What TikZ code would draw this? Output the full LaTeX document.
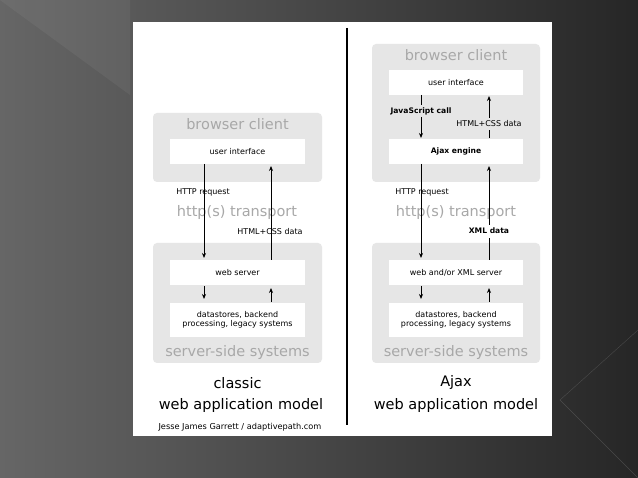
\documentclass[tikz,border=0pt]{standalone}
\usepackage{fontspec}
\setmainfont{DejaVu Sans}
\usetikzlibrary{arrows.meta}
\definecolor{boxgray}{HTML}{E6E6E6}
\definecolor{titlegray}{HTML}{A8A8A8}
\begin{document}
\begin{tikzpicture}[x=1pt,y=-1pt,
  grp/.style={fill=boxgray,rounded corners=4pt},
  wbox/.style={fill=white,draw=none,inner sep=0pt,align=center,font=\fontsize{8}{9.5}\selectfont},
  ttl/.style={text=titlegray,font=\fontsize{14.5}{16}\selectfont,inner sep=0pt},
  lbl/.style={font=\fontsize{8}{9}\selectfont,inner sep=0pt},
  blbl/.style={font=\bfseries\fontsize{7.6}{9}\selectfont,inner sep=0pt},
  big/.style={font=\fontsize{14.5}{16}\selectfont,inner sep=0pt},
  arr/.style={-{Stealth[length=5pt,width=4pt]},line width=0.8pt},
  ln/.style={line width=0.8pt}]
\useasboundingbox (0,0) rectangle (638,478);
\shade[left color=black!60,right color=black!85] (0,0) rectangle (638,478);
\fill[white,opacity=0.05] (0,0) -- (130,95) -- (130,0) -- cycle;
\draw[white,opacity=0.15] (638,330) -- (560,400) -- (638,478);
\fill[white] (133,22) rectangle (552,436);
\draw[line width=2.5pt] (347,28) -- (347,425);
% ---- left
\fill[grp] (153,113) rectangle (322,182);
\node[ttl] (lbc) at (237.5,124) {browser client};
\node[wbox,minimum width=135pt,minimum height=25pt] (lui) at (237.5,151.5) {user interface};
\fill[grp] (153,243) rectangle (322,363);
\node[wbox,minimum width=135pt,minimum height=25pt] (lws) at (237.5,272.5) {web server};
\node[wbox,minimum width=135pt,minimum height=34pt] (lds) at (237.5,320) {datastores, backend\\processing, legacy systems};
\node[ttl] (lss) at (237.5,353) {server-side systems};
\node[ttl] (lht) at (237,213) {http(s) transport};
\node[lbl] (lhr) at (203,192) {HTTP request};
\node[lbl] (lhc) at (270,232) {HTML+CSS data};
\draw[arr] (204,164) -- (204,258);
\draw[arr] (271,260) -- (271,166);
\draw[arr] (204,286) -- (204,299);
\draw[arr] (271,302) -- (271,288);
\node[big] (lc) at (237.5,383) {classic};
\node[big] (lw) at (241,406) {web application model};
\node[font=\fontsize{8.2}{9}\selectfont,inner sep=0pt] (cr) at (240,427) {Jesse James Garrett / adaptivepath.com};
% ---- right
\fill[grp] (372,44) rectangle (540,182);
\node[ttl] (rbc) at (456,55) {browser client};
\node[wbox,minimum width=134pt,minimum height=25pt] (rui) at (456,82.5) {user interface};
\node[wbox,minimum width=134pt,minimum height=25pt,font=\bfseries\fontsize{7.6}{9}\selectfont] (rae) at (456,151.5) {Ajax engine};
\node[blbl] (rjs) at (421,111) {JavaScript call};
\node[lbl] (rhc) at (489,124) {HTML+CSS data};
\draw[ln] (421,95) -- (421,105);
\draw[arr] (421,117) -- (421,138);
\draw[ln] (489,138) -- (489,130);
\draw[arr] (489,118) -- (489,96);
\fill[grp] (372,243) rectangle (540,363);
\node[wbox,minimum width=134pt,minimum height=25pt] (rws) at (456,272.5) {web and/or XML server};
\node[wbox,minimum width=134pt,minimum height=34pt] (rds) at (456,320) {datastores, backend\\processing, legacy systems};
\node[ttl] (rss) at (456,353) {server-side systems};
\node[ttl] (rht) at (456,213) {http(s) transport};
\node[lbl] (rhr) at (422,192) {HTTP request};
\node[blbl] (rxd) at (489,231) {XML data};
\draw[arr] (421,164) -- (421,258);
\draw[ln] (489,260) -- (489,238);
\draw[arr] (489,225) -- (489,166);
\draw[arr] (421,286) -- (421,299);
\draw[arr] (489,302) -- (489,288);
\node[big] (ra) at (456,383) {Ajax};
\node[big] (rw) at (456,406) {web application model};
\end{tikzpicture}
\end{document}
